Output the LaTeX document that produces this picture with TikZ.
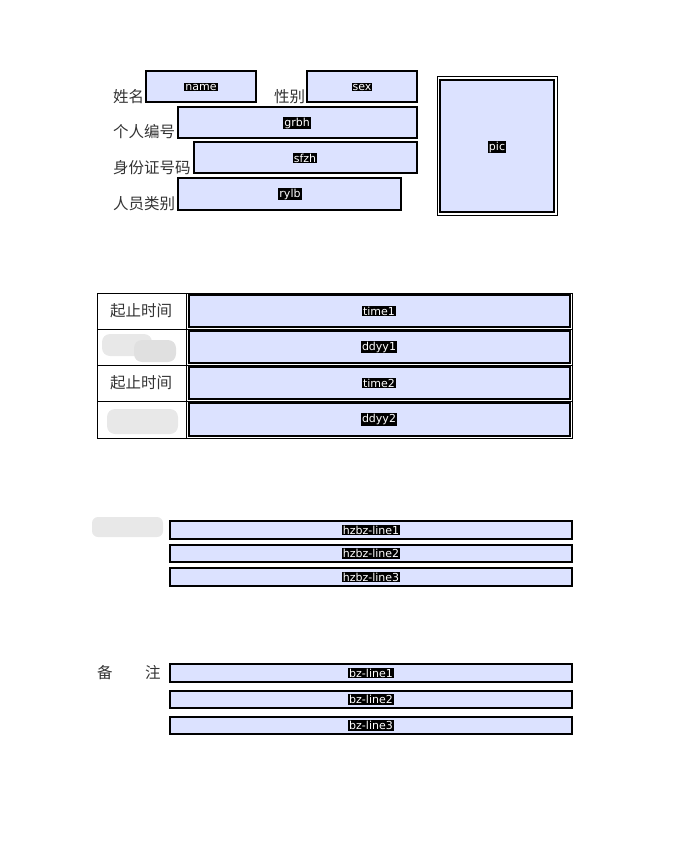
\documentclass[tikz,border=0pt]{standalone}
\usepackage{fontspec}
\setmainfont{DejaVu Sans}
\newfontfamily\cjk{Noto Sans CJK SC}
\begin{document}
\begin{tikzpicture}[x=1pt,y=-1pt,
  fld/.style={draw=black,line width=2pt,fill=boxc},
  tag/.style={fill=black,text=white,inner sep=1pt,font=\fontsize{11}{11}\selectfont},
  lab/.style={font=\cjk\fontsize{15.5}{15.5}\selectfont,text=black!80,inner sep=0pt,anchor=base west},
  blur/.style={fill=black!9,rounded corners=8pt,draw=none}]
\definecolor{boxc}{HTML}{DCE2FF}
\useasboundingbox (0,0) rectangle (676,861);
% top section
\node[lab] (l1) at (113,103) {姓名};
\draw[fld] (146,71) rectangle (256,102); \node[tag] (t1) at (201,87) {name};
\node[lab] (l2) at (274,103) {性别};
\draw[fld] (307,71) rectangle (417,102); \node[tag] (t2) at (362,87) {sex};
\node[lab] (l3) at (113,138) {个人编号};
\draw[fld] (178,107) rectangle (417,138); \node[tag] (t3) at (297,123) {grbh};
\node[lab] (l4) at (113,174) {身份证号码};
\draw[fld] (194,142) rectangle (417,173); \node[tag] (t4) at (305,158) {sfzh};
\node[lab] (l5) at (113,209) {人员类别};
\draw[fld] (178,178) rectangle (401,210); \node[tag] (t5) at (290,194) {rylb};
\draw[line width=1pt] (437,77) rectangle (557,215);
\draw[fld] (440,80) rectangle (554,212); \node[tag] (t6) at (497,147) {pic};
% table
\draw[line width=0.8pt] (97,293) rectangle (572,438);
\draw[line width=0.8pt] (186,293) -- (186,438);
\foreach \y in {329,365,401} \draw[line width=0.8pt] (97,\y) -- (572,\y);
\foreach \a/\b/\t in {295/327/time1,331/363/ddyy1,367/399/time2,403/436/ddyy2}
  {\draw[fld] (189,\a) rectangle (570,\b); \node[tag] at (379,{(\a+\b)/2}) {\t};}
\node[lab,anchor=center] (r1) at (141,311) {起止时间};
\node[lab,anchor=center] (r3) at (141,383) {起止时间};
\fill[blur] (102,334) rectangle (152,356);
\fill[blur,fill=black!12] (134,340) rectangle (176,362);
\fill[blur] (107,409) rectangle (178,434);
% hzbz
\fill[blur,rounded corners=6pt] (92,517) rectangle (163,537);
\foreach \a/\b/\t in {521/539/hzbz-line1,545/562/hzbz-line2,568/586/hzbz-line3}
  {\draw[fld] (170,\a) rectangle (572,\b); \node[tag] at (371,{(\a+\b)/2}) {\t};}
% bz
\node[lab] (b1) at (97,678) {备};
\node[lab] (b2) at (145,678) {注};
\foreach \a/\b/\t in {664/682/bz-line1,691/708/bz-line2,717/734/bz-line3}
  {\draw[fld] (170,\a) rectangle (572,\b); \node[tag] at (371,{(\a+\b)/2}) {\t};}
\end{tikzpicture}
\end{document}
